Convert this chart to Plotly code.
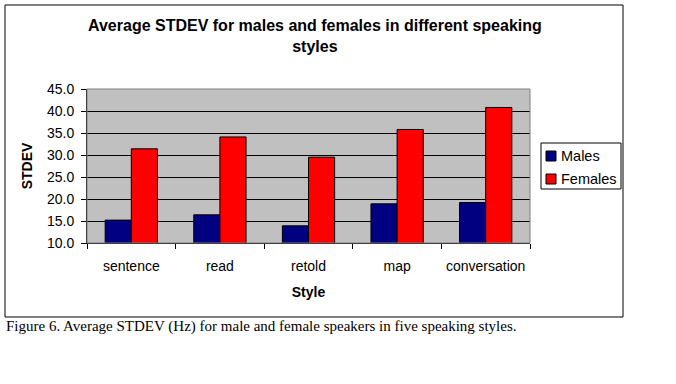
import plotly.graph_objects as go

categories = ["sentence", "read", "retold", "map", "conversation"]
males = [15.2, 16.4, 13.9, 18.9, 19.2]
females = [31.4, 34.1, 29.5, 35.8, 40.8]
series_names = ["Males", "Females"]
series_colors = ["#000080", "#FF0000"]
y_ticks = [10, 15, 20, 25, 30, 35, 40, 45]
y_tick_labels = ["10.0", "15.0", "20.0", "25.0", "30.0", "35.0", "40.0", "45.0"]

W, H = 676, 384
L, R, T, B = 87, 530, 89, 243
pw, ph = R - L, B - T

def px(x):
    return (x - L) / pw

def py(y):
    return (B - y) / ph

fig = go.Figure()
for name, vals, col in zip(series_names, [males, females], series_colors):
    fig.add_trace(go.Bar(x=categories, y=vals, name=name, showlegend=False,
                         hoverinfo="skip",
                         marker=dict(color=col, line=dict(color="black", width=1))))

fig.update_layout(
    width=W, height=H,
    margin=dict(l=L, r=W - R, t=T, b=H - B, pad=0),
    paper_bgcolor="white",
    plot_bgcolor="#C0C0C0",
    barmode="group",
    bargap=0.41,
    bargroupgap=0,
    font=dict(family="Arial, Liberation Sans, sans-serif", size=14, color="black"),
    showlegend=False,
    xaxis=dict(type="category", tickson="boundaries", ticks="outside", ticklen=5,
               tickcolor="black", showgrid=False, showline=True, linecolor="black",
               linewidth=1, mirror=False, tickfont=dict(size=14),
               ticklabelstandoff=10,
               title=dict(text="<b>Style</b>", font=dict(size=14), standoff=14)),
    yaxis=dict(range=[10, 45], tickvals=y_ticks, ticktext=y_tick_labels,
               ticks="outside", ticklen=5, tickcolor="black",
               showgrid=True, gridcolor="black", gridwidth=1,
               showline=True, linecolor="black", linewidth=1,
               tickfont=dict(size=14), ticklabelstandoff=4,
               title=dict(text="<b>STDEV</b>", font=dict(size=14), standoff=11)),
)

# plot area border (gray)
fig.add_shape(type="rect", xref="paper", yref="paper", x0=0, x1=1, y0=0, y1=1,
              line=dict(color="#808080", width=1), layer="above")
# outer chart border
fig.add_shape(type="rect", xref="paper", yref="paper",
              x0=px(5), x1=px(623), y0=py(317), y1=py(5),
              line=dict(color="black", width=1))

# legend (box, swatches, labels)
fig.add_shape(type="rect", xref="paper", yref="paper",
              x0=px(541), x1=px(621), y0=py(189), y1=py(143),
              line=dict(color="black", width=1), fillcolor="white")
for i, (name, col) in enumerate(zip(series_names, series_colors)):
    yc = 156 + 23 * i
    fig.add_shape(type="rect", xref="paper", yref="paper",
                  x0=px(546), x1=px(556), y0=py(yc + 5), y1=py(yc - 5),
                  line=dict(color="black", width=1), fillcolor=col)
    fig.add_annotation(text=name, xref="paper", yref="paper", x=px(559), y=py(yc),
                       xanchor="left", yanchor="middle", showarrow=False,
                       font=dict(size=14.5))

fig.add_annotation(text="<b>Average STDEV for males and females in different speaking<br>styles</b>",
                   xref="paper", yref="paper", x=px(315), y=py(36),
                   xanchor="center", yanchor="middle", showarrow=False,
                   font=dict(size=16), align="center")

fig.add_annotation(text="Figure 6. Average STDEV (Hz) for male and female speakers in five speaking styles.",
                   xref="paper", yref="paper", x=px(4), y=py(326),
                   xanchor="left", yanchor="middle", showarrow=False,
                   font=dict(family="Liberation Serif, Times New Roman, serif", size=15))

fig.write_html("out.html", config={"displayModeBar": False},
               post_script="document.body.style.margin='0px';")
